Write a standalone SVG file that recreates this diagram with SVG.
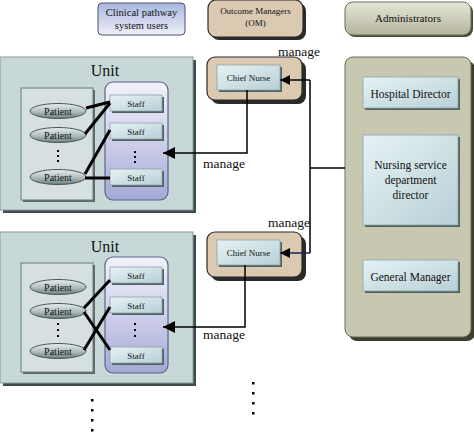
<svg xmlns="http://www.w3.org/2000/svg" width="474" height="432" viewBox="0 0 474 432">
<defs>
<linearGradient id="gBlue" x1="0" y1="0" x2="0" y2="1"><stop offset="0" stop-color="#a9b6e0"/><stop offset="1" stop-color="#eef0f8"/></linearGradient>
<linearGradient id="gAdmin" x1="0" y1="0" x2="0" y2="1"><stop offset="0" stop-color="#e6e6d8"/><stop offset="1" stop-color="#b4b49c"/></linearGradient>
<linearGradient id="gStaffPanel" x1="0" y1="0" x2="0" y2="1"><stop offset="0" stop-color="#f2f2fa"/><stop offset="0.6" stop-color="#c6c8e6"/><stop offset="1" stop-color="#a4a8d6"/></linearGradient>
<linearGradient id="gPatient" x1="0" y1="0" x2="0" y2="1"><stop offset="0" stop-color="#e8eeee"/><stop offset="0.5" stop-color="#b4c2c2"/><stop offset="1" stop-color="#6e7e7e"/></linearGradient>
<linearGradient id="gBtn" x1="0" y1="0" x2="1" y2="1"><stop offset="0" stop-color="#e6f2f4"/><stop offset="1" stop-color="#b8d0d6"/></linearGradient>
<marker id="arr" viewBox="0 0 10 10" refX="10" refY="5" markerWidth="10" markerHeight="10" markerUnits="userSpaceOnUse" orient="auto"><path d="M0,0 L10,5 L0,10 z" fill="#000"/></marker>
<marker id="arrB" viewBox="0 0 10 10" refX="10" refY="5" markerWidth="12" markerHeight="12" markerUnits="userSpaceOnUse" orient="auto"><path d="M0,0 L10,5 L0,10 z" fill="#000"/></marker>
</defs>
<style>
text{font-family:"Liberation Serif","Times New Roman",serif;fill:#111}
.unit{fill:#c8d8d8;stroke:#8a9a9a;stroke-width:1}
.unitSh{fill:#3e4c4c}
.ppanel{fill:#d6e0e0;stroke:#6a7a7a;stroke-width:1}
.spanel{fill:url(#gStaffPanel);stroke:#5e6488;stroke-width:1.2}
.pat{fill:url(#gPatient);stroke:#4a5656;stroke-width:1}
.btn{fill:url(#gBtn);stroke:#8ea4a8;stroke-width:0.8}
.btnSh{fill:#4e6264}
.om{fill:#dcc9b2;stroke:#2a2a2a;stroke-width:1.2}
.omSh{fill:#2a2a2a}
.thick{stroke:#000;stroke-width:3;fill:none}
.thin{stroke:#000;stroke-width:1.5;fill:none}
.dot{fill:#000}
</style>

<g id="header-users">
<rect x="98" y="3" width="87" height="32" rx="4" fill="url(#gBlue)" stroke="#4a5070" stroke-width="1"/>
<text x="141.5" y="16" font-size="10.5" text-anchor="middle">Clinical pathway</text>
<text x="141.5" y="29" font-size="10.5" text-anchor="middle">system users</text>
</g>
<g id="header-om">
<rect x="211" y="3" width="95" height="37" rx="8" class="omSh"/>
<rect x="208" y="0" width="95" height="37" rx="8" class="om"/>
<text x="255.5" y="14" font-size="9" text-anchor="middle">Outcome Managers</text>
<text x="255.5" y="26" font-size="9" text-anchor="middle">(OM)</text>
</g>
<g id="header-admin">
<rect x="347" y="4" width="126" height="33" rx="8" fill="#4a4a3a"/>
<rect x="345" y="2" width="126" height="33" rx="8" fill="url(#gAdmin)" stroke="#6a6a5a" stroke-width="1"/>
<text x="408" y="22" font-size="11" text-anchor="middle">Administrators</text>
</g>

<g id="unit1">
<rect x="3" y="60" width="193" height="153" class="unitSh"/>
<rect x="0" y="57" width="193" height="153" class="unit"/>
<text x="105" y="76" font-size="16" text-anchor="middle">Unit</text>
<rect x="23" y="90" width="72" height="112" fill="#5a6a6a"/>
<rect x="21" y="88" width="72" height="112" class="ppanel"/>
<rect x="105" y="82" width="63" height="118" rx="8" class="spanel"/>
</g>
<g id="unit1-patients">
<ellipse cx="58" cy="111" rx="28" ry="7.5" class="pat"/><text x="58" y="114.5" font-size="10" text-anchor="middle">Patient</text>
<ellipse cx="58" cy="135" rx="28" ry="7.5" class="pat"/><text x="58" y="138.5" font-size="10" text-anchor="middle">Patient</text>
<ellipse cx="58" cy="177" rx="28" ry="7.5" class="pat"/><text x="58" y="180.5" font-size="10" text-anchor="middle">Patient</text>
<rect x="57" y="150" width="2" height="2" class="dot"/><rect x="57" y="155" width="2" height="2" class="dot"/><rect x="57" y="160" width="2" height="2" class="dot"/>
</g>
<g id="unit1-staff">
<rect x="112" y="97" width="52" height="16" class="btnSh"/><rect x="110" y="95" width="52" height="16" class="btn"/><text x="136" y="106.5" font-size="9" text-anchor="middle">Staff</text>
<rect x="112" y="125" width="52" height="16" class="btnSh"/><rect x="110" y="123" width="52" height="16" class="btn"/><text x="136" y="134.5" font-size="9" text-anchor="middle">Staff</text>
<rect x="112" y="171" width="52" height="16" class="btnSh"/><rect x="110" y="169" width="52" height="16" class="btn"/><text x="136" y="180.5" font-size="9" text-anchor="middle">Staff</text>
<rect x="134" y="151" width="2" height="2" class="dot"/><rect x="134" y="156" width="2" height="2" class="dot"/><rect x="134" y="161" width="2" height="2" class="dot"/>
</g>

<g id="unit2">
<rect x="3" y="235" width="193" height="151" class="unitSh"/>
<rect x="0" y="232" width="193" height="151" class="unit"/>
<text x="105" y="252" font-size="16" text-anchor="middle">Unit</text>
<rect x="23" y="265" width="72" height="109" fill="#5a6a6a"/>
<rect x="21" y="263" width="72" height="109" class="ppanel"/>
<rect x="105" y="257" width="63" height="116" rx="8" class="spanel"/>
</g>
<g id="unit2-patients">
<ellipse cx="58" cy="287" rx="28" ry="7.5" class="pat"/><text x="58" y="290.5" font-size="10" text-anchor="middle">Patient</text>
<ellipse cx="58" cy="311" rx="28" ry="7.5" class="pat"/><text x="58" y="314.5" font-size="10" text-anchor="middle">Patient</text>
<ellipse cx="58" cy="351" rx="28" ry="7.5" class="pat"/><text x="58" y="354.5" font-size="10" text-anchor="middle">Patient</text>
<rect x="57" y="323" width="2" height="2" class="dot"/><rect x="57" y="329" width="2" height="2" class="dot"/><rect x="57" y="335" width="2" height="2" class="dot"/>
</g>
<g id="unit2-staff">
<rect x="112" y="269" width="52" height="16" class="btnSh"/><rect x="110" y="267" width="52" height="16" class="btn"/><text x="136" y="278.5" font-size="9" text-anchor="middle">Staff</text>
<rect x="112" y="299" width="52" height="16" class="btnSh"/><rect x="110" y="297" width="52" height="16" class="btn"/><text x="136" y="308.5" font-size="9" text-anchor="middle">Staff</text>
<rect x="112" y="349" width="52" height="16" class="btnSh"/><rect x="110" y="347" width="52" height="16" class="btn"/><text x="136" y="358.5" font-size="9" text-anchor="middle">Staff</text>
<rect x="134" y="323" width="2" height="2" class="dot"/><rect x="134" y="329" width="2" height="2" class="dot"/><rect x="134" y="335" width="2" height="2" class="dot"/>
</g>

<g id="chief-nurse-1">
<rect x="211" y="61" width="95" height="43" rx="8" class="omSh"/>
<rect x="207" y="57" width="95" height="43" rx="8" class="om"/>
<rect x="219" y="67" width="63" height="25" class="btnSh"/>
<rect x="217" y="65" width="63" height="25" class="btn"/>
<text x="248.5" y="81" font-size="9" text-anchor="middle" fill="#223">Chief Nurse</text>
</g>
<g id="chief-nurse-2">
<rect x="211" y="236" width="95" height="45" rx="8" class="omSh"/>
<rect x="207" y="232" width="95" height="45" rx="8" class="om"/>
<rect x="219" y="242" width="63" height="25" class="btnSh"/>
<rect x="217" y="240" width="63" height="25" class="btn"/>
<text x="248.5" y="256" font-size="9" text-anchor="middle" fill="#223">Chief Nurse</text>
</g>

<g id="admin-panel">
<rect x="349" y="61" width="126" height="280" rx="8" fill="#3e3e30"/>
<rect x="345" y="57" width="126" height="280" rx="8" fill="#c8c8b0" stroke="#6a6a5a" stroke-width="1"/>
<rect x="365" y="79" width="95" height="31" class="btnSh"/>
<rect x="363" y="77" width="95" height="31" class="btn"/>
<text x="410.5" y="97.5" font-size="11.5" text-anchor="middle">Hospital Director</text>
<rect x="365" y="137" width="95" height="90" class="btnSh"/>
<rect x="363" y="135" width="95" height="90" class="btn"/>
<text x="410.5" y="169" font-size="11.5" text-anchor="middle">Nursing service</text>
<text x="410.5" y="184" font-size="11.5" text-anchor="middle">department</text>
<text x="410.5" y="199" font-size="11.5" text-anchor="middle">director</text>
<rect x="365" y="262" width="95" height="31" class="btnSh"/>
<rect x="363" y="260" width="95" height="31" class="btn"/>
<text x="410.5" y="280.5" font-size="11.5" text-anchor="middle">General Manager</text>
</g>

<g id="connectors">
<line x1="86" y1="108" x2="110" y2="102" class="thick"/>
<line x1="85" y1="134" x2="110" y2="103" class="thick"/>
<line x1="85" y1="174" x2="110" y2="130" class="thick"/>
<line x1="85" y1="178" x2="110" y2="178" class="thick"/>
<line x1="84" y1="308" x2="110" y2="280" class="thick"/>
<line x1="84" y1="312" x2="110" y2="350" class="thick"/>
<line x1="84" y1="350" x2="110" y2="307" class="thick"/>
<polyline points="247,90 247,153 163,153" class="thin" marker-end="url(#arrB)"/>
<polyline points="245,265 245,327 163,327" class="thin" marker-end="url(#arrB)"/>
<polyline points="310,80 310,253" class="thin"/>
<line x1="345" y1="168" x2="310" y2="168" class="thin"/>
<line x1="310" y1="80" x2="280" y2="80" class="thin" marker-end="url(#arr)"/>
<line x1="310" y1="253" x2="280" y2="253" stroke="#1e1e5a" stroke-width="1.5" marker-end="url(#arr)"/>
</g>

<g id="labels">
<text x="278" y="56" font-size="13.5">manage</text>
<text x="203" y="168" font-size="13.5">manage</text>
<text x="268" y="227" font-size="13.5">manage</text>
<text x="203" y="339" font-size="13.5">manage</text>
</g>

<g id="ellipsis">
<rect x="91" y="399" width="2.5" height="2.5" class="dot"/><rect x="91" y="409" width="2.5" height="2.5" class="dot"/><rect x="91" y="419" width="2.5" height="2.5" class="dot"/><rect x="91" y="429" width="2.5" height="2.5" class="dot"/>
<rect x="252" y="382" width="2.5" height="2.5" class="dot"/><rect x="252" y="392" width="2.5" height="2.5" class="dot"/><rect x="252" y="402" width="2.5" height="2.5" class="dot"/><rect x="252" y="412" width="2.5" height="2.5" class="dot"/>
</g>
</svg>
